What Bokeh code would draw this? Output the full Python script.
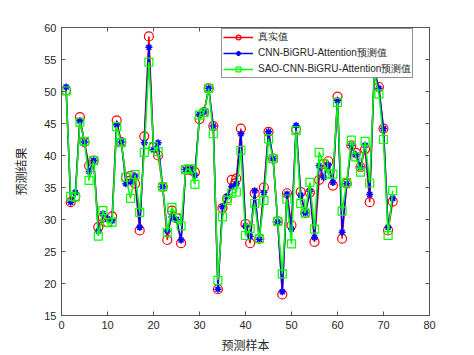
from bokeh.plotting import figure
from bokeh.models import LinearAxis, Legend, LegendItem, FixedTicker
from bokeh.embed import file_html
from bokeh.resources import INLINE

# sample index
samples = list(range(1, 73))

true_values = [50.2, 32.7, 33.6, 46.0, 42.1, 38.4, 39.2, 28.8, 30.3, 29.6,
               30.5, 45.5, 42.1, 36.6, 36.8, 35.6, 28.3, 43.0, 58.6, 41.3,
               40.0, 35.1, 26.8, 31.4, 30.2, 26.3, 37.8, 37.7, 37.4, 45.7,
               46.8, 50.5, 44.6, 19.1, 31.8, 33.3, 36.2, 36.4, 44.2, 29.3,
               26.3, 34.1, 27.0, 35.0, 43.7, 39.5, 29.7, 18.3, 34.1, 29.1,
               44.1, 34.3, 31.0, 34.2, 26.5, 36.2, 38.7, 39.1, 35.3, 49.2,
               27.0, 35.6, 41.6, 40.4, 38.2, 41.0, 32.7, 53.3, 50.7, 44.2,
               28.3, 32.8]

cnn_bigru_att = [50.7, 32.7, 34.2, 45.4, 42.1, 37.5, 39.2, 28.2, 30.9, 30.1,
                 29.8, 44.8, 42.1, 35.6, 35.9, 36.8, 28.8, 42.0, 56.9, 40.9,
                 42.0, 35.1, 28.2, 30.4, 30.0, 26.8, 37.8, 37.9, 36.9, 46.4,
                 46.8, 50.5, 44.6, 19.1, 32.0, 33.6, 35.1, 35.6, 43.4, 29.0,
                 27.4, 34.5, 26.9, 34.2, 43.7, 39.5, 29.6, 18.7, 34.0, 28.5,
                 44.7, 33.8, 31.0, 34.4, 27.2, 38.4, 36.6, 38.5, 35.8, 48.6,
                 28.0, 35.6, 41.6, 40.1, 38.2, 41.6, 33.9, 53.1, 50.5, 44.2,
                 28.8, 33.3]

sao_cnn_bigru_att = [50.1, 33.6, 33.5, 45.2, 42.2, 36.1, 39.2, 27.4, 31.4, 29.5,
                     29.6, 44.5, 42.0, 36.6, 33.3, 37.0, 31.1, 40.5, 54.6, 41.4,
                     40.6, 35.1, 28.0, 31.9, 30.3, 29.0, 37.8, 37.9, 35.5, 46.3,
                     46.7, 50.5, 43.4, 20.5, 30.4, 33.0, 34.1, 34.3, 40.8, 27.5,
                     28.6, 32.5, 27.0, 33.0, 42.6, 39.5, 29.7, 21.5, 33.2, 26.2,
                     43.9, 32.5, 31.0, 35.8, 28.5, 40.5, 38.7, 37.1, 37.1, 48.3,
                     31.3, 35.8, 42.4, 39.8, 37.4, 42.2, 35.7, 52.9, 49.6, 42.5,
                     27.5, 34.5]

x_ticks = [0, 10, 20, 30, 40, 50, 60, 70, 80]
y_ticks = [15, 20, 25, 30, 35, 40, 45, 50, 55, 60]

labels = ["真实值", "CNN-BiGRU-Attention预测值", "SAO-CNN-BiGRU-Attention预测值"]

AX = "#555555"
TXT = "#262626"

p = figure(width=474, height=355, x_range=(0, 80), y_range=(15, 60),
           output_backend="svg", toolbar_location=None,
           min_border_left=61, min_border_right=45,
           min_border_top=27, min_border_bottom=39)
p.background_fill_color = "white"
p.border_fill_color = "white"
p.xgrid.visible = False
p.ygrid.visible = False
p.outline_line_color = AX
p.outline_line_width = 1

for ax in (p.xaxis[0], p.yaxis[0]):
    ax.axis_line_color = AX
    ax.major_tick_line_color = AX
    ax.major_tick_in = 4
    ax.major_tick_out = 0
    ax.minor_tick_line_color = None
    ax.major_label_text_font = "Liberation Sans"
    ax.major_label_text_font_size = "11px"
    ax.major_label_text_color = TXT
    ax.axis_label_text_font = "Noto Sans CJK SC"
    ax.axis_label_text_font_size = "12px"
    ax.axis_label_text_font_style = "normal"
    ax.axis_label_text_color = TXT

p.xaxis.ticker = FixedTicker(ticks=x_ticks)
p.yaxis.ticker = FixedTicker(ticks=y_ticks)
p.xaxis.axis_label = "预测样本"
p.yaxis.axis_label = "预测结果"
p.xaxis.major_label_standoff = 5
p.xaxis.axis_label_standoff = 4
p.yaxis.major_label_standoff = 5
p.yaxis.axis_label_standoff = 12

# mirrored tick marks on the top and right edges (box on), without labels
right_axis = LinearAxis(ticker=FixedTicker(ticks=y_ticks),
                        major_label_text_color=None, major_label_text_font_size="1px",
                        major_tick_in=4, major_tick_out=0, minor_tick_line_color=None,
                        axis_line_color=AX, major_tick_line_color=AX, major_label_standoff=0)
top_axis = LinearAxis(ticker=FixedTicker(ticks=x_ticks),
                      major_label_text_color=None, major_label_text_font_size="1px",
                      major_tick_in=4, major_tick_out=0, minor_tick_line_color=None,
                      axis_line_color=AX, major_tick_line_color=AX, major_label_standoff=0)
p.add_layout(right_axis, "right")
p.add_layout(top_axis, "above")

series = [
    (true_values, "#ff0000", "circle", 9, 1.2),
    (cnn_bigru_att, "#0000ff", "asterisk", 7, 1.5),
    (sao_cnn_bigru_att, "#00ff00", "square", 8, 1.2),
]
items = []
for (vals, col, mk, sz, mlw), lab in zip(series, labels):
    r1 = p.line(samples, vals, line_color=col, line_width=1.5)
    r2 = p.scatter(samples, vals, marker=mk, size=sz, fill_color=None,
                   line_color=col, line_width=mlw)
    items.append(LegendItem(label=lab, renderers=[r1, r2]))

legend = Legend(items=items, location=(160, 237),
                label_text_font="Liberation Sans", label_text_font_size="10px",
                label_text_color=TXT, glyph_width=30, glyph_height=12,
                label_height=12, label_standoff=5, spacing=2, padding=1,
                margin=0, border_line_color=TXT, border_line_width=1,
                background_fill_color="white", background_fill_alpha=1.0)
p.add_layout(legend, "center")

open("out.html", "w").write(file_html(p, INLINE))
